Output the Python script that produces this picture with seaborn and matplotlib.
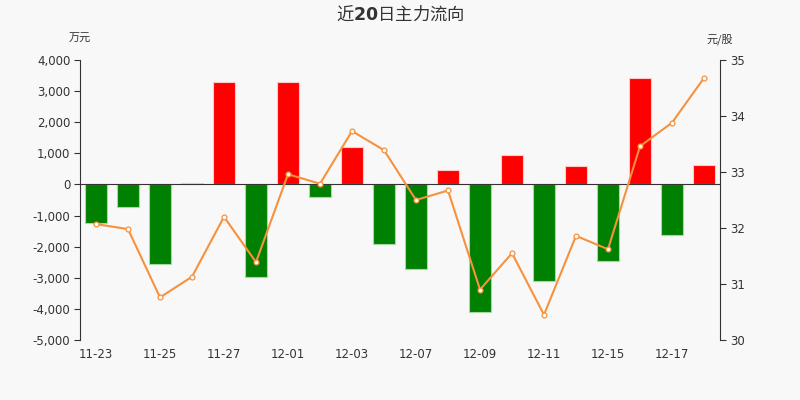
import numpy as np
import pandas as pd
import matplotlib
matplotlib.use('Agg')
import matplotlib.pyplot as plt
import seaborn as sns

# 近20日 main fund flow (万元) and close price (元/股)
dates = ['11-23', '11-24', '11-25', '11-26', '11-27', '11-30', '12-01', '12-02', '12-03', '12-04',
         '12-07', '12-08', '12-09', '12-10', '12-11', '12-14', '12-15', '12-16', '12-17', '12-18']
flow = [-1240, -710, -2550, 45, 3290, -2960, 3290, -390, 1200, -1910,
        -2710, 460, -4090, 940, -3090, 600, -2470, 3410, -1630, 620]
price = [32.07, 31.98, 30.76, 31.13, 32.20, 31.39, 32.96, 32.79, 33.73, 33.39,
         32.50, 32.67, 30.90, 31.55, 30.45, 31.86, 31.62, 33.46, 33.88, 34.68]

sns.set_style('white')
plt.rcParams['font.family'] = ['DejaVu Sans', 'Noto Sans CJK SC']
plt.rcParams['axes.unicode_minus'] = False

bg = '#f8f8f8'
txt = '#333333'
cjk = ['Noto Sans CJK SC', 'DejaVu Sans']

df = pd.DataFrame({'date': dates, 'flow': flow, 'price': price})
df['sign'] = np.where(df['flow'] >= 0, 'in', 'out')
df['pos'] = np.arange(len(df))

fig = plt.figure(figsize=(8, 4), dpi=100, facecolor=bg)
ax = fig.add_axes([0.1, 0.15, 0.8, 0.7])
ax.set_facecolor(bg)

sns.barplot(data=df, x='pos', y='flow', hue='sign', palette={'in': '#ff0000', 'out': '#008000'},
            dodge=False, width=0.68, legend=False, ax=ax, native_scale=True, saturation=1)
# light outline like the original
for bar in ax.patches:
    fc = bar.get_facecolor()
    bar.set_edgecolor('#ffc9c9' if fc[0] > 0.5 else '#a8d8a8')
    bar.set_linewidth(0.8)

ax.set_xlim(-0.5, len(dates) - 0.5)
ax.set_ylim(-5000, 4000)
ax.set_yticks(range(-5000, 4001, 1000))
ax.yaxis.set_major_formatter(matplotlib.ticker.FuncFormatter(lambda v, _: f'{int(v):,}'))
ax.set_xlabel('')
ax.set_ylabel('')

for s in ['top', 'right']:
    ax.spines[s].set_visible(False)
ax.spines['left'].set_color(txt)
ax.spines['bottom'].set_color(txt)
ax.spines['bottom'].set_position(('data', 0))
ax.set_xticks(np.arange(1.5, len(dates) - 1, 2))
ax.set_xticklabels([])
ax.tick_params(axis='x', length=4, color=txt, direction='out')
ax.tick_params(axis='y', length=4, color=txt, labelcolor=txt, labelsize=8.5, direction='out', pad=3)

sec = ax.secondary_xaxis('bottom')
sec.set_xticks(df['pos'][::2])
sec.set_xticklabels(df['date'][::2])
sec.spines['bottom'].set_visible(False)
sec.tick_params(length=0, labelcolor=txt, labelsize=8.5, pad=6)

ax2 = ax.twinx()
sns.lineplot(data=df, x='pos', y='price', ax=ax2, color='#f7913d', linewidth=1.5,
             marker='o', markersize=3.5, markerfacecolor='white', markeredgecolor='#f7913d',
             markeredgewidth=0.9)
ax2.set_ylim(30, 35)
ax2.set_yticks(range(30, 36))
ax2.set_xlim(-0.5, len(dates) - 0.5)
ax2.set_xlabel('')
ax2.set_ylabel('')
for s in ['top', 'left', 'bottom']:
    ax2.spines[s].set_visible(False)
ax2.spines['right'].set_color(txt)
ax2.tick_params(axis='y', length=4, color=txt, labelcolor=txt, labelsize=8.5, direction='out', pad=3)

fig.text(0.1, 0.903, '万元', ha='center', va='center', fontsize=8, color=txt, family=cjk)
fig.text(0.9, 0.903, '元/股', ha='center', va='center', fontsize=8, color=txt, family=cjk)
fig.suptitle('近$\\mathbf{20}$日主力流向', y=0.965, va='center', fontsize=12.5, color=txt, family=cjk)

fig.savefig('out.png', dpi=100, facecolor=bg)
